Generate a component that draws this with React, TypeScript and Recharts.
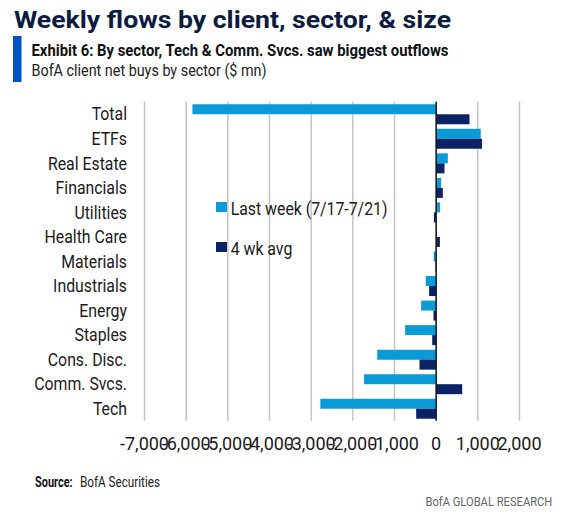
import { BarChart, Bar, XAxis, YAxis, CartesianGrid, ReferenceLine, Legend } from 'recharts';

const categories = [
  'Total',
  'ETFs',
  'Real Estate',
  'Financials',
  'Utilities',
  'Health Care',
  'Materials',
  'Industrials',
  'Energy',
  'Staples',
  'Cons. Disc.',
  'Comm. Svcs.',
  'Tech'
];

const lastWeek = [-5850, 1070, 280, 120, 95, 20, -60, -250, -360, -745, -1415, -1730, -2780];
const fourWeekAvg = [800, 1100, 200, 160, -55, 90, -15, -170, -65, -95, -400, 625, -480];

const xTicks = [-7000, -6000, -5000, -4000, -3000, -2000, -1000, 0, 1000, 2000];

const seriesOrder = ['lastWeek', 'avg4wk'];

const data = categories.map((name, i) => ({
  name,
  lastWeek: lastWeek[i],
  avg4wk: fourWeekAvg[i]
}));

const FONT = 'Roboto, sans-serif';
const LIGHT_BLUE = '#0a9bd7';
const NAVY = '#0b2265';
const SQUEEZE = 0.88;

const XTick = ({ x, y, payload }: any) => (
  <text x={x} y={y} dy={29} textAnchor="middle" fontFamily={FONT} fontSize={18} fill="#1a1a1a">
    {Number(payload.value).toLocaleString('en-US')}
  </text>
);

const YTick = ({ x, y, payload }: any) => (
  <g transform={`translate(${x},${y}) scale(${SQUEEZE},1)`}>
    <text x={0} y={0} dy={6.5} textAnchor="end" fontFamily={FONT} fontSize={18} fill="#1a1a1a">
      {payload.value}
    </text>
  </g>
);

const renderLegend = ({ payload }: any) => {
  const items = [...(payload || [])].sort(
    (a: any, b: any) => seriesOrder.indexOf(a.dataKey) - seriesOrder.indexOf(b.dataKey)
  );
  return (
    <svg width={200} height={70}>
      {items.map((entry: any, i: number) => (
        <g key={entry.value} transform={`translate(0,${i * 40})`}>
          <rect x={2} y={7} width={11} height={10} fill={entry.color} />
          <g transform={`translate(16.7,20) scale(${SQUEEZE},1)`}>
            <text x={0} y={0} fontFamily={FONT} fontSize={18} fill="#1a1a1a">
              {entry.value}
            </text>
          </g>
        </g>
      ))}
    </svg>
  );
};

export default function App() {
  return (
    <div style={{ position: 'absolute', left: 0, top: 0, width: 562, height: 522, background: '#fff' }}>
      <BarChart
        width={562}
        height={522}
        data={data}
        layout="vertical"
        margin={{ top: 101.7, right: 42.5, bottom: 71.3, left: 0 }}
        barCategoryGap="10.5%"
        barGap={0}
      >
        <CartesianGrid horizontal={false} stroke="#c4c4c4" strokeWidth={1.5} />
        <XAxis
          type="number"
          domain={[-7000, 2000]}
          ticks={xTicks}
          interval={0}
          allowDataOverflow
          axisLine={false}
          tickLine={false}
          tickSize={0}
          tickMargin={0}
          height={30}
          tick={<XTick />}
        />
        <YAxis
          type="category"
          dataKey="name"
          width={144.5}
          axisLine={false}
          tickLine={false}
          tickSize={0}
          tickMargin={17.5}
          interval={0}
          tick={<YTick />}
        />
        <Legend
          layout="vertical"
          align="center"
          verticalAlign="middle"
          wrapperStyle={{ left: 214, top: 195, width: 200, height: 70 }}
          content={renderLegend}
        />
        <Bar dataKey="lastWeek" name="Last week (7/17-7/21)" fill={LIGHT_BLUE} isAnimationActive={false} />
        <Bar dataKey="avg4wk" name="4 wk avg" fill={NAVY} isAnimationActive={false} />
        <ReferenceLine x={0} stroke="#1a1a1a" strokeWidth={1.5} />
      </BarChart>

      {/* Header and footer */}
      <svg
        width={562}
        height={522}
        style={{ position: 'absolute', left: 0, top: 0, pointerEvents: 'none' }}
      >
        <text
          x={14}
          y={28.3}
          fontFamily={FONT}
          fontWeight={700}
          fontSize={23.5}
          fill="#0c1c40"
          textLength={437}
          lengthAdjust="spacingAndGlyphs"
        >
          Weekly flows by client, sector, &amp; size
        </text>
        <rect x={13} y={36} width={8.5} height={46} fill="#0052c4" />
        <text
          x={31.5}
          y={55.5}
          fontFamily={FONT}
          fontWeight={700}
          fontSize={17}
          fill="#111"
          textLength={417}
          lengthAdjust="spacingAndGlyphs"
        >
          Exhibit 6: By sector, Tech &amp; Comm. Svcs. saw biggest outflows
        </text>
        <text
          x={31.5}
          y={76}
          fontFamily={FONT}
          fontSize={17}
          fill="#222"
          textLength={235}
          lengthAdjust="spacingAndGlyphs"
        >
          BofA client net buys by sector ($ mn)
        </text>
        <text
          x={35}
          y={487.3}
          fontFamily={FONT}
          fontWeight={700}
          fontSize={14}
          fill="#111"
          textLength={37.7}
          lengthAdjust="spacingAndGlyphs"
        >
          Source:
        </text>
        <text
          x={80}
          y={487.3}
          fontFamily={FONT}
          fontSize={14}
          fill="#222"
          textLength={80}
          lengthAdjust="spacingAndGlyphs"
        >
          BofA Securities
        </text>
        <g transform="translate(552.3,506) scale(0.86,1)">
          <text x={0} y={0} textAnchor="end" fontFamily={FONT} fontSize={13} fill="#666">
            BofA GLOBAL RESEARCH
          </text>
        </g>
      </svg>
    </div>
  );
}
